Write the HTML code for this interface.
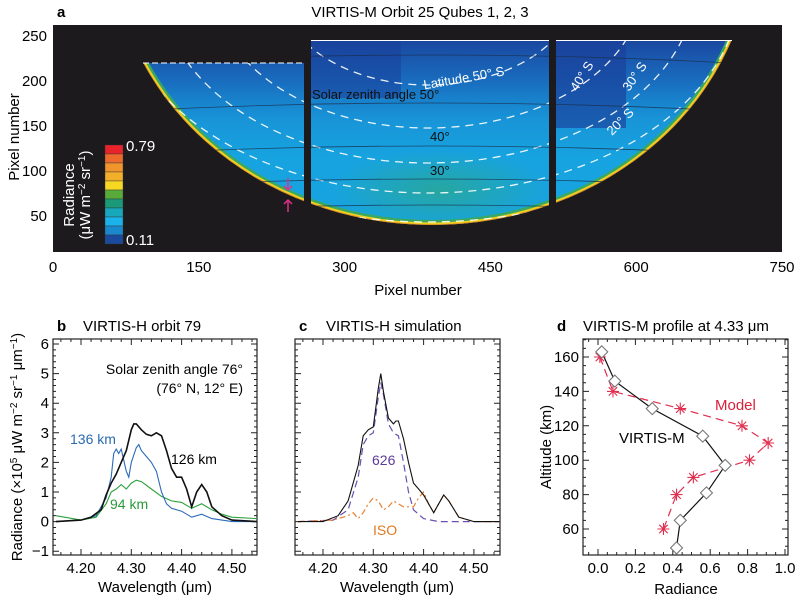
<!DOCTYPE html>
<html><head><meta charset="utf-8"><style>
html,body{margin:0;padding:0;background:#fff;}
svg{display:block;font-family:"Liberation Sans Narrow","Liberation Sans",sans-serif;}
</style></head><body>
<svg id="fig" width="800" height="602" viewBox="0 0 800 602" xmlns="http://www.w3.org/2000/svg">
<defs>
<clipPath id="planetClip">
  <path d="M120,63 L304,63 L304,40.5 L750,40.5 L750,260 L110,260 Z"/>
</clipPath>
<clipPath id="ellClip"><ellipse cx="432" cy="-60" rx="320" ry="285"/></clipPath>
<linearGradient id="topDark" x1="0" y1="0" x2="0" y2="1">
  <stop offset="0" stop-color="#1a3f9a" stop-opacity="0.95"/>
  <stop offset="0.22" stop-color="#1a56b0" stop-opacity="0.7"/>
  <stop offset="0.42" stop-color="#1a6cc0" stop-opacity="0.25"/>
  <stop offset="0.6" stop-color="#1a6cc0" stop-opacity="0"/>
</linearGradient>
<radialGradient id="greenish" cx="0.5" cy="0.5" r="0.5">
  <stop offset="0" stop-color="#2aa890" stop-opacity="0.8"/>
  <stop offset="1" stop-color="#2aa890" stop-opacity="0"/>
</radialGradient>
</defs>

<!-- Panel a -->
<text x="57" y="17" font-size="15" font-weight="bold">a</text>
<text x="420" y="17" font-size="15" text-anchor="middle">VIRTIS-M Orbit 25 Qubes 1, 2, 3</text>
<rect x="53" y="25" width="729" height="227" fill="#1c1a1d"/>
<g id="planet">
  <g clip-path="url(#planetClip)">
    <g clip-path="url(#ellClip)">
      <rect x="110" y="38" width="640" height="200" fill="#17a3e0"/>
      <rect x="110" y="38" width="640" height="200" fill="url(#topDark)"/>
      <rect x="311" y="38" width="90" height="60" fill="#1a3f9a" opacity="0.55"/>
      <rect x="556" y="38" width="70" height="90" fill="#1a3f9a" opacity="0.65"/>
      <ellipse cx="440" cy="190" rx="110" ry="40" fill="url(#greenish)"/>
      <ellipse cx="432" cy="-60" rx="320" ry="285" fill="none" stroke="#3aa860" stroke-width="10"/>
      <ellipse cx="432" cy="-60" rx="320" ry="285" fill="none" stroke="#f0d020" stroke-width="5"/>
      <ellipse cx="432" cy="-60" rx="320" ry="285" fill="none" stroke="#e05020" stroke-width="1.5" opacity="0.6"/>
      <g id="latLines" fill="none" stroke="#ffffff" stroke-width="1.3" stroke-dasharray="8,6" opacity="0.9"></g>
      <g id="szaLines" fill="none" stroke="#1a3050" stroke-width="0.8" opacity="0.8"></g>
    </g>
  </g>
  <line x1="143" y1="63" x2="304" y2="63" stroke="#ffffff" stroke-width="1" stroke-dasharray="6,3"/>
  <line x1="304" y1="40.5" x2="732" y2="40.5" stroke="#ffffff" stroke-width="1"/>
  <rect x="304" y="40" width="7" height="200" fill="#1c1a1d"/>
  <rect x="549" y="40" width="7" height="200" fill="#1c1a1d"/>
</g>
<text x="423" y="82" font-size="13" fill="#fff" transform="rotate(-10 466 78)">Latitude 50° S</text>
<text x="577" y="92" font-size="13" fill="#fff" transform="rotate(-58 577 92)">40° S</text>
<text x="629" y="92" font-size="13" fill="#fff" transform="rotate(-55 629 92)">30° S</text>
<text x="612" y="136" font-size="13" fill="#fff" transform="rotate(-45 612 136)">20° S</text>
<text x="312" y="99" font-size="13" fill="#101010">Solar zenith angle 50°</text>
<text x="430" y="141" font-size="13" fill="#101010">40°</text>
<text x="430" y="175" font-size="13" fill="#101010">30°</text>
<g stroke="#e0308a" stroke-width="1.5" fill="none">
  <path d="M288,178 L288,190 M284,186 L288,190 L292,186"/>
  <path d="M288,212 L288,200 M284,204 L288,200 L292,204"/>
</g>
<g id="colorbar"></g>
<text x="126" y="151" font-size="15" fill="#fff">0.79</text>
<text x="126" y="245" font-size="15" fill="#fff">0.11</text>
<text transform="translate(74 195) rotate(-90)" font-size="15" fill="#fff" text-anchor="middle">Radiance</text>
<text transform="translate(90 195) rotate(-90)" font-size="15" fill="#fff" text-anchor="middle">(μW m<tspan font-size="10" dy="-5">−2</tspan><tspan dy="5"> sr</tspan><tspan font-size="10" dy="-5">−1</tspan><tspan dy="5">)</tspan></text>
<g id="axA" font-size="15"></g>
<text x="418" y="295" font-size="15" text-anchor="middle">Pixel number</text>
<text transform="translate(19 137) rotate(-90)" font-size="15" text-anchor="middle">Pixel number</text>

<!-- Panel b -->
<text x="57" y="331" font-size="15" font-weight="bold">b</text>
<text x="83" y="331" font-size="15">VIRTIS-H orbit 79</text>
<g id="panelB"></g>
<text x="243" y="374" font-size="14" text-anchor="end">Solar zenith angle 76°</text>
<text x="243" y="393" font-size="14" text-anchor="end">(76° N, 12° E)</text>
<text x="70" y="444" font-size="14" fill="#2a6ab0">136 km</text>
<text x="171" y="464" font-size="14">126 km</text>
<text x="110" y="509" font-size="14" fill="#2a9a3a">94 km</text>
<text x="155" y="592" font-size="15" text-anchor="middle">Wavelength (μm)</text>
<text transform="translate(22 447) rotate(-90)" font-size="15" text-anchor="middle">Radiance (×10<tspan font-size="10" dy="-5">5</tspan><tspan dy="5"> μW m</tspan><tspan font-size="10" dy="-5">−2</tspan><tspan dy="5"> sr</tspan><tspan font-size="10" dy="-5">−1</tspan><tspan dy="5"> μm</tspan><tspan font-size="10" dy="-5">−1</tspan><tspan dy="5">)</tspan></text>

<!-- Panel c -->
<text x="299" y="331" font-size="15" font-weight="bold">c</text>
<text x="326" y="331" font-size="15">VIRTIS-H simulation</text>
<g id="panelC"></g>
<text x="372" y="465" font-size="14" fill="#5a3a9a">626</text>
<text x="373" y="535" font-size="14" fill="#e07a20">ISO</text>
<text x="397" y="592" font-size="15" text-anchor="middle">Wavelength (μm)</text>

<!-- Panel d -->
<text x="557" y="331" font-size="15" font-weight="bold">d</text>
<text x="583" y="331" font-size="15">VIRTIS-M profile at 4.33 μm</text>
<g id="panelD"></g>
<text x="715" y="410" font-size="15" fill="#d8203a">Model</text>
<text x="619" y="443" font-size="15">VIRTIS-M</text>
<text x="686" y="594" font-size="15" text-anchor="middle">Radiance</text>
<text transform="translate(551 447) rotate(-90)" font-size="15" text-anchor="middle">Altitude (km)</text>
</svg>
<script>
// ---- Panel a data ----
var aXTicks=[0,150,300,450,600,750];
var aYTicks=[50,100,150,200,250];
var cbColors=["#e8242a","#ec6a2c","#f0952c","#f2b02a","#f6d822","#58aa3a","#1a9a78","#18a8bc","#1ab2ea","#1a88cc","#1a4a9e"];
var latBottoms=[85,128,163,193,222,250];
var szaLevels=[52,100,143,176,202];
// ---- Panel b data ----
var bWave126=[4.15,4.20,4.22,4.24,4.25,4.26,4.27,4.28,4.29,4.30,4.305,4.31,4.32,4.33,4.34,4.35,4.36,4.37,4.38,4.39,4.40,4.41,4.42,4.43,4.44,4.45,4.46,4.48,4.50,4.55];
var bVal126=[0,0.05,0.15,0.4,0.9,1.3,1.6,2.0,2.4,3.1,3.3,3.3,3.1,2.95,2.9,3.0,2.9,2.4,1.8,1.5,1.5,1.1,0.5,1.0,1.25,1.0,0.5,0.2,0.05,0];
var bWave136=[4.15,4.20,4.23,4.25,4.26,4.265,4.27,4.275,4.28,4.29,4.295,4.30,4.31,4.315,4.32,4.33,4.34,4.35,4.36,4.37,4.38,4.40,4.42,4.44,4.46,4.50,4.55];
var bVal136=[0,0.05,0.2,0.8,1.5,2.3,2.45,2.3,2.45,1.7,1.5,2.0,2.5,2.6,2.4,2.2,2.0,1.7,1.0,0.6,0.45,0.35,0.15,0.25,0.1,0,0];
var bWave94=[4.15,4.20,4.23,4.25,4.26,4.27,4.28,4.29,4.30,4.31,4.32,4.34,4.36,4.38,4.40,4.42,4.44,4.46,4.48,4.50,4.55];
var bVal94=[0.2,0.05,0.15,0.6,1.0,1.1,1.25,1.1,1.3,1.4,1.35,1.1,0.85,0.7,0.65,0.45,0.6,0.4,0.25,0.15,0.1];
var xTickLabels=["4.20","4.30","4.40","4.50"];
var bYTicks=[-1,0,1,2,3,4,5,6];
// ---- Panel c data ----
var cWaveTot=[4.15,4.20,4.23,4.25,4.27,4.28,4.29,4.30,4.31,4.315,4.32,4.33,4.34,4.345,4.35,4.36,4.37,4.38,4.39,4.40,4.41,4.42,4.43,4.44,4.45,4.47,4.50,4.55];
var cValTot=[0,0,0.2,0.7,1.9,2.9,3.1,3.2,4.5,5.0,4.4,3.5,3.3,3.4,3.4,2.8,2.0,1.3,1.1,0.9,0.6,0.3,0.6,0.9,0.7,0.15,0,0];
var cWave626=[4.15,4.22,4.25,4.27,4.28,4.29,4.30,4.31,4.315,4.32,4.33,4.34,4.35,4.36,4.37,4.38,4.40,4.43,4.55];
var cVal626=[0,0.05,0.4,1.5,2.6,2.9,3.0,4.2,4.7,4.3,3.3,3.0,2.9,2.0,1.0,0.4,0.1,0,0];
var cWaveIso=[4.15,4.22,4.25,4.26,4.27,4.28,4.29,4.30,4.31,4.32,4.33,4.34,4.35,4.36,4.37,4.38,4.39,4.40,4.41,4.42,4.43,4.44,4.45,4.47,4.50,4.55];
var cValIso=[0,0.05,0.2,0.3,0.1,0.3,0.6,0.8,0.7,0.4,0.5,0.7,0.6,0.5,0.5,0.5,0.8,1.0,0.6,0.3,0.6,0.9,0.7,0.15,0,0];
// ---- Panel d data ----
var dObsRad=[0.02,0.09,0.29,0.56,0.68,0.58,0.44,0.42];
var dObsAlt=[163,146,130,114,97,81,65,49];
var dModRad=[0.01,0.08,0.44,0.77,0.91,0.81,0.51,0.42,0.35];
var dModAlt=[160,140,130,120,110,100,90,80,60];
var dXTicks=[0,0.2,0.4,0.6,0.8,1.0];
var dYTicks=[60,80,100,120,140,160];

var NS="http://www.w3.org/2000/svg";
function mk(tag,attrs,parent){var e=document.createElementNS(NS,tag);for(var k in attrs)e.setAttribute(k,attrs[k]);parent.appendChild(e);return e;}

// Panel a axes
var aX=function(p){return 53+p*0.972;};
var aY=function(v){return 36+(250-v)*0.9;};
var axA=document.getElementById('axA');
aXTicks.forEach(function(t){
  var e=mk('text',{x:aX(t),y:272,'text-anchor':'middle'},axA);
  
  
  e.textContent=t;
});
aYTicks.forEach(function(t){
  var e=mk('text',{x:47,y:aY(t)+5,'text-anchor':'end'},axA);
  
  
  e.textContent=t;
});
var cb=document.getElementById('colorbar');
var segH=(244-145)/cbColors.length;
cbColors.forEach(function(c,i){
  var r=mk('rect',{x:105,y:145+i*segH,width:18,height:segH,fill:c,stroke:'#333','stroke-width':0.4},cb);
  
  
});
var lat=document.getElementById('latLines');
latBottoms.forEach(function(b){
  var ry=b+15, rx=ry*1.5;
  var e=mk('ellipse',{cx:428,cy:b-ry,rx:rx,ry:ry},lat);
  
  
});
var sza=document.getElementById('szaLines');
szaLevels.forEach(function(y){
  var e=mk('path',{d:'M110,'+(y+12)+' Q432,'+(y-6)+' 750,'+(y+12)},sza);
  
  
});

function frame(g,x0,x1,y0,y1,xs,ys,xmaj,xmin,ymaj,ymin,xlab,ylab){
  var r=mk('rect',{x:x0,y:y0,width:x1-x0,height:y1-y0,fill:'none',stroke:'#222','stroke-width':1.2},g);
  
  
  var p='';
  xmin.forEach(function(v){var x=xs(v);p+='M'+x+','+y1+'v-3M'+x+','+y0+'v3';});
  xmaj.forEach(function(v){var x=xs(v);p+='M'+x+','+y1+'v-6M'+x+','+y0+'v6';});
  ymin.forEach(function(v){var y=ys(v);p+='M'+x0+','+y+'h3M'+x1+','+y+'h-3';});
  ymaj.forEach(function(v){var y=ys(v);p+='M'+x0+','+y+'h6M'+x1+','+y+'h-6';});
  var t=mk('path',{d:p,stroke:'#222','stroke-width':1,fill:'none'},g);
  
  
  if(xlab) xmaj.forEach(function(v,i){
    var e=mk('text',{x:xs(v),y:y1+18,'font-size':15,'text-anchor':'middle'},g);
    
    
    e.textContent=xlab[i];
  });
  if(ylab) ymaj.forEach(function(v,i){
    var e=mk('text',{x:x0-4,y:ys(v)+5,'font-size':15,'text-anchor':'end'},g);
    
    
    e.textContent=ylab[i];
  });
}
function rng(a,b,s){var o=[];for(var v=a;v<=b+1e-9;v+=s)o.push(Math.round(v*1000)/1000);return o;}
function line(g,xs,ys,X,Y,attrs,name){
  var d='';X.forEach(function(x,i){d+=(i?'L':'M')+xs(x).toFixed(1)+','+ys(Y[i]).toFixed(1);});
  attrs.d=d;attrs.fill='none';
  var e=mk('path',attrs,g);
  
  
}
// Panel b
var bX=function(w){return 81+(w-4.20)*503;};
var bY=function(v){return 344+(6-v)*29.6;};
var gB=document.getElementById('panelB');
frame(gB,53,257,339,555,bX,bY,[4.2,4.3,4.4,4.5],rng(4.16,4.54,0.02),bYTicks,rng(-1,6,0.2),xTickLabels,bYTicks.map(function(v){return v<0?'−'+(-v):String(v);}));
line(gB,bX,bY,bWave94,bVal94,{stroke:'#2aa03a','stroke-width':1.1},'series-94km');
line(gB,bX,bY,bWave136,bVal136,{stroke:'#2a6ab8','stroke-width':1.1},'series-136km');
line(gB,bX,bY,bWave126,bVal126,{stroke:'#111','stroke-width':1.6},'series-126km');
// Panel c
var cX=function(w){return 323+(w-4.20)*503;};
var gC=document.getElementById('panelC');
frame(gC,295,500,339,555,cX,bY,[4.2,4.3,4.4,4.5],rng(4.16,4.54,0.02),bYTicks,rng(-1,6,0.2),xTickLabels,null);
line(gC,cX,bY,cWave626,cVal626,{stroke:'#6a50b0','stroke-width':1.2,'stroke-dasharray':'7,4'},'series-626');
line(gC,cX,bY,cWaveIso,cValIso,{stroke:'#e88030','stroke-width':1.2,'stroke-dasharray':'6,3,2,3'},'series-iso');
line(gC,cX,bY,cWaveTot,cValTot,{stroke:'#111','stroke-width':1.1},'series-total');
// Panel d
var dX=function(r){return 598+r*187;};
var dY=function(a){return 357+(160-a)*1.72;};
var gD=document.getElementById('panelD');
frame(gD,583,788,339,555,dX,dY,dXTicks,rng(-0.05,1.0,0.05),dYTicks,rng(50,170,5),dXTicks.map(function(v){return v.toFixed(1);}),dYTicks.map(String));
line(gD,dX,dY,dModRad,dModAlt,{stroke:'#e03050','stroke-width':1.2,'stroke-dasharray':'8,5'},'series-model');
line(gD,dX,dY,dObsRad,dObsAlt,{stroke:'#111','stroke-width':1.2},'series-virtis-m');
dModRad.forEach(function(r,i){
  var x=dX(r),y=dY(dModAlt[i]),s=6;
  var e=mk('path',{d:'M'+(x-s)+','+y+'h'+2*s+'M'+x+','+(y-s)+'v'+2*s+'M'+(x-4.2)+','+(y-4.2)+'l8.4,8.4M'+(x-4.2)+','+(y+4.2)+'l8.4,-8.4',stroke:'#e03050','stroke-width':1.1},gD);
  
  
});
dObsRad.forEach(function(r,i){
  var x=dX(r),y=dY(dObsAlt[i]),s=6;
  var e=mk('path',{d:'M'+x+','+(y-s)+'L'+(x+s)+','+y+'L'+x+','+(y+s)+'L'+(x-s)+','+y+'Z',stroke:'#777',fill:'#fff','stroke-width':1.1},gD);
  
  
});
</script>
</body></html>
